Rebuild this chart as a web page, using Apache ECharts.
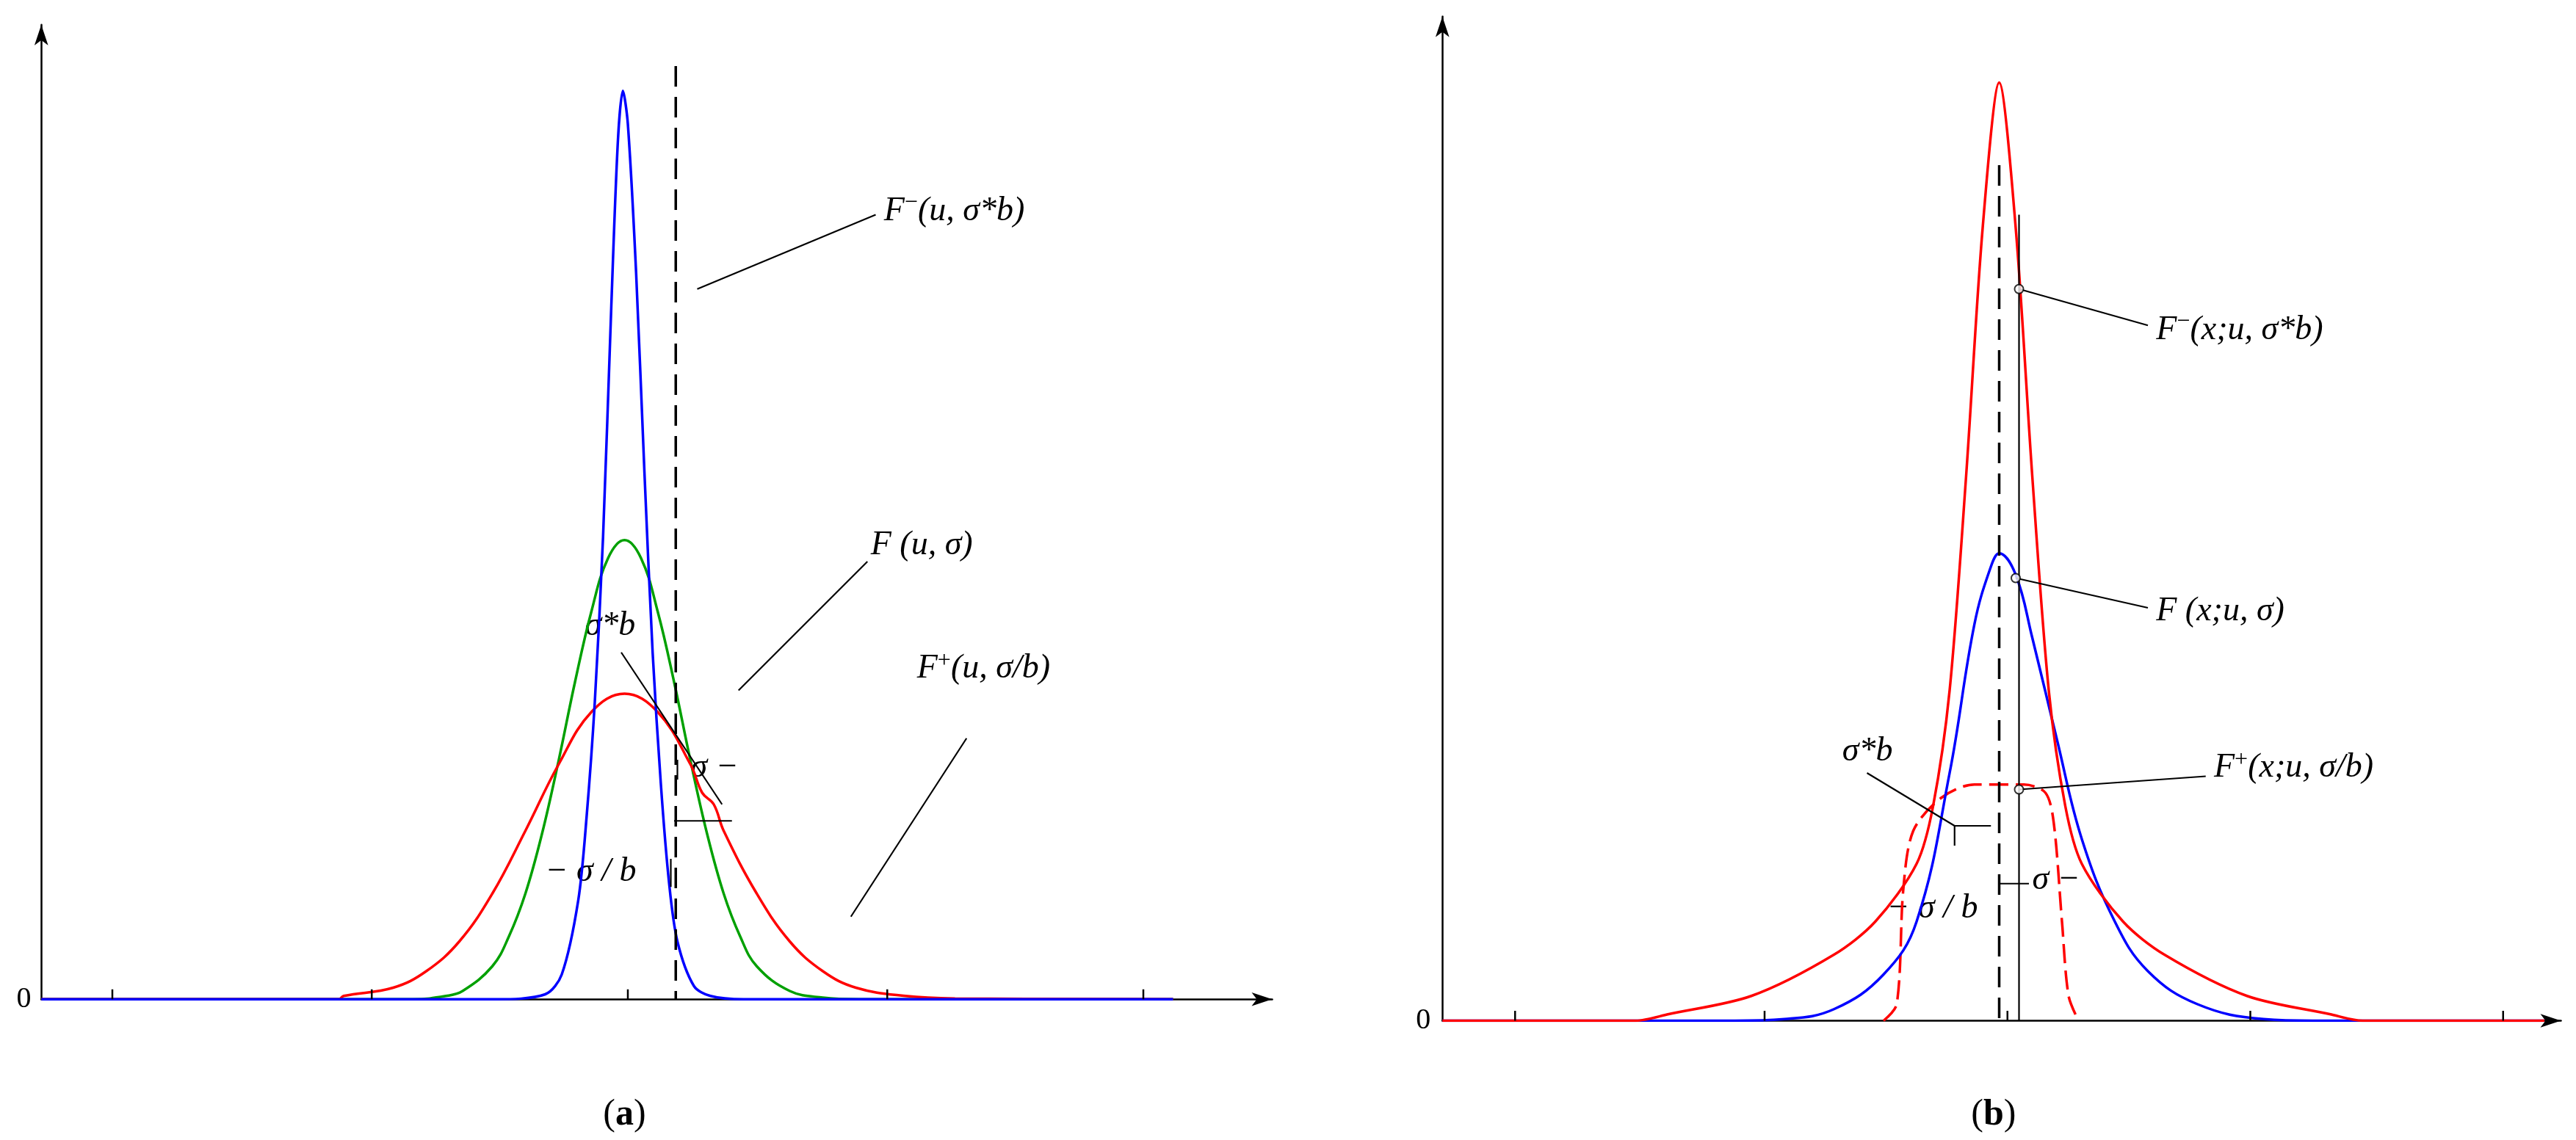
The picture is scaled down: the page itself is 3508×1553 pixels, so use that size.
<!DOCTYPE html>
<html><head><meta charset="utf-8">
<script src="https://cdn.jsdelivr.net/npm/echarts@6/dist/echarts.min.js"></script>
<style>html,body{margin:0;background:#fff}#c{width:3508px;height:1553px}</style></head>
<body><div id="c"></div>
<script>
// Panel (a) curves: [x, height]
const aBlue=[[25,0],[300,0],[330,3],[340,15],[350,60],[355,110],[360,180],[365,280],[370,420],[374,520],[377,550],[380,530],[385,440],[390,320],[395,210],[400,130],[405,70],[410,35],[420,8],[430,2],[450,0],[710,0]];
const aGreen=[[25,0],[250,0],[270,2],[280,5],[298,20],[308,38],[318,64],[328,100],[338,144],[348,192],[358,235],[368,267],[378,278],[388,267],[398,235],[408,192],[418,144],[428,100],[438,64],[448,38],[458,20],[478,5],[498,1],[520,0],[710,0]];
const aRed=[[25,0],[205,0],[208,2],[238,7],[258,17],[278,35],[298,64],[318,102],[338,142],[358,174],[378,185],[398,174],[418,142],[425,125],[432,118],[438,102],[458,64],[478,35],[498,17],[518,7],[548,2],[578,0.5],[710,0]];
// Panel (b) curves
const bRedPeak=[[873,0],[990,0],[1010,4],[1060,15],[1110,40],[1135,60],[1160,95],[1170,130],[1180,200],[1190,330],[1200,480],[1210,568],[1220,480],[1230,330],[1240,200],[1250,130],[1260,95],[1285,60],[1310,40],[1360,15],[1410,4],[1430,0],[1540,0]];
const bBlue=[[873,0],[1050,0],[1080,1],[1110,7],[1140,28],[1160,60],[1180,150],[1195,240],[1205,275],[1210,283],[1220,270],[1230,232],[1245,170],[1260,110],[1280,60],[1300,30],[1330,10],[1370,1],[1400,0],[1540,0]];
const bRedFlat=[[1140,0],[1148,10],[1152,80],[1158,115],[1175,135],[1195,143],[1225,143],[1238,138],[1243,120],[1248,60],[1252,15],[1258,0]];
const aTicks=[68,225,380,537,692];
const bTicks=[917,1068,1215,1362,1515];

const S=2.25;
const serif='Liberation Serif';
function ya(p){return 605-p;} function yb(p){return 618-p;}
function seg(pts,f){return pts.map(p=>p==null?'-':[p[0],f(p[1])]);}
function tickData(t){const d=[];t.forEach(x=>{d.push([x,0],[x,6],'-');});return d;}
const lineA=seg([[409,40],[409,605]],ya);
const ptrA=seg([[530,130],[422,175],null,[525,340],[447,418],null,[585,447],[515,555],null,[376,395],[437,487],null,[408,497],[443,497],null,[410,460],[410,472],null,[406,520],[406,537]],ya);
const lineBd=seg([[1210,100],[1210,618]],yb);
const lineBs=seg([[1222,130],[1222,618]],yb);
const ptrB=seg([[1222,175],[1300,197],null,[1220,350],[1300,368],null,[1222,478],[1335,470],null,[1130,468],[1183,500],[1205,500],null,[1183,500],[1183,512],null,[1210,535],[1228,535]],yb);
const circB=seg([[1222,175],[1220,350],[1222,478]],yb);

function L(xi,yi,data,color,w,type,sm){return {type:'line',xAxisIndex:xi,yAxisIndex:yi,data:data,symbol:'none',smooth:sm||false,lineStyle:{color:color,width:w,type:type||'solid'},connectNulls:false,silent:true,animation:false,z:2};}
const axisCommon={axisLine:{show:true,symbol:['none','arrow'],symbolSize:[14,28],lineStyle:{color:'#000',width:2.5}},axisTick:{show:false},axisLabel:{show:false},splitLine:{show:false}};
const rich={i:{fontFamily:serif,fontStyle:'italic',fontSize:46,color:'#000'},s:{fontFamily:serif,fontSize:32,color:'#000',verticalAlign:'top',padding:[0,0,22,0]},n:{fontFamily:serif,fontStyle:'italic',fontSize:46,color:'#000'}};
function T(x,y,t,extra){return Object.assign({type:'text',x:x*S,y:y*S,style:{text:t,rich:rich,font:'italic 46px "Liberation Serif"',fill:'#000',verticalAlign:'middle'}},extra||{});}

const chart=echarts.init(document.getElementById('c'));
chart.setOption({
 animation:false,
 grid:[{left:25*S,top:15*S,width:745*S,height:590*S},{left:873*S,top:10*S,width:677*S,height:608*S}],
 xAxis:[Object.assign({type:'value',gridIndex:0,min:25,max:770},axisCommon),Object.assign({type:'value',gridIndex:1,min:873,max:1550},axisCommon)],
 yAxis:[Object.assign({type:'value',gridIndex:0,min:0,max:590},axisCommon),Object.assign({type:'value',gridIndex:1,min:0,max:608},axisCommon)],
 series:[
  L(0,0,aGreen,'#00a000',3.5,null,0.4),L(0,0,aRed,'#ff0000',3.5,null,0.4),L(0,0,aBlue,'#0000ff',3.5,null,0.3),
  L(0,0,lineA,'#000',3.5,[28,14]),L(0,0,ptrA,'#000',2.2),L(0,0,tickData(aTicks),'#000',2.5),
  L(1,1,bRedFlat,'#ff0000',3.5,[26,10],0.3),L(1,1,bBlue,'#0000ff',3.5,null,0.4),L(1,1,bRedPeak,'#ff0000',3.5,null,0.3),
  L(1,1,lineBd,'#000',3.5,[28,14]),L(1,1,lineBs,'#000',2.2),L(1,1,ptrB,'#000',2.2),L(1,1,tickData(bTicks),'#000',2.5),
  {type:'scatter',xAxisIndex:1,yAxisIndex:1,data:circB,symbol:'circle',symbolSize:12,itemStyle:{color:'#fff',borderColor:'#000',borderWidth:2},z:5,silent:true}
 ],
 graphic:[
  T(10,605,'0',{style:{text:'0',font:'40px "Liberation Serif"',fill:'#000',verticalAlign:'middle'}}),
  T(857,618,'0',{style:{text:'0',font:'40px "Liberation Serif"',fill:'#000',verticalAlign:'middle'}}),
  T(535,128,'{i|F}{s|−}{n|(u, σ*b)}'),
  T(527,330,'{i|F }{n|(u, σ)}'),
  T(555,405,'{i|F}{s|+}{n|(u, σ/b)}'),
  T(354,379,'{n|σ*b}'),
  T(418,465,'{n|σ −}'),
  T(330,528,'{n|− σ / b}'),
  T(1305,200,'{i|F}{s|−}{n|(x;u, σ*b)}'),
  T(1305,370,'{i|F }{n|(x;u, σ)}'),
  T(1340,465,'{i|F}{s|+}{n|(x;u, σ/b)}'),
  T(1115,455,'{n|σ*b}'),
  T(1142,550,'{n|− σ / b}'),
  T(1230,533,'{n|σ −}'),
  {type:'text',x:365*S,y:675*S,style:{text:'({b|a})',rich:{b:{font:'bold 50px "Liberation Serif"',fill:'#000'}},font:'50px "Liberation Serif"',fill:'#000',verticalAlign:'middle'}},
  {type:'text',x:1193*S,y:675*S,style:{text:'({b|b})',rich:{b:{font:'bold 50px "Liberation Serif"',fill:'#000'}},font:'50px "Liberation Serif"',fill:'#000',verticalAlign:'middle'}}
 ]
});
</script></body></html>
